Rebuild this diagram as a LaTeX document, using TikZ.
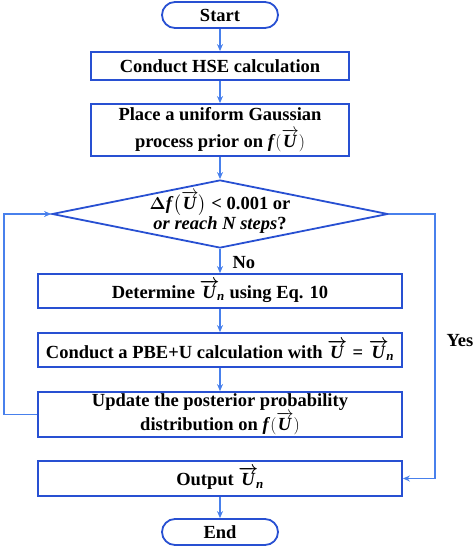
\documentclass[tikz,border=0pt]{standalone}
\usepackage{amsmath}
\usepackage{fontspec}
\setmainfont{Liberation Serif}
\usetikzlibrary{shapes.geometric,arrows.meta}
\definecolor{boxblue}{RGB}{40,80,210}
\definecolor{arrblue}{RGB}{72,128,236}
\newcommand{\Uv}{\overrightarrow{\textbf{\textit{U}}}}
\newcommand{\fv}{\textbf{\textit{f}}}
\newcommand{\nv}{\textbf{\textit{n}}}
\newcommand{\blt}{\mathrel{\text{\textbf{<}}}}
\newcommand{\beq}{\mathrel{\text{\textbf{=}}}}
\begin{document}
\begin{tikzpicture}[x=1pt,y=1pt,
  txt/.style={font=\fontsize{18.5}{24}\selectfont\bfseries\boldmath, text=black},
  procbox/.style={txt, draw=boxblue, line width=1.8pt, rectangle, minimum width=364pt, inner sep=0pt, align=center},
  termbox/.style={txt, draw=boxblue, line width=1.8pt, rectangle, rounded corners=13pt, minimum width=116pt, minimum height=26pt, inner sep=0pt},
  conn/.style={draw=arrblue, line width=1.5pt, -{Stealth[length=7pt,width=6pt]}}
]
\useasboundingbox (0,0) rectangle (474,-548);
\node[termbox] (start) at (220,-15) {Start};
\node[procbox, minimum width=258pt, minimum height=28pt] (hse) at (220,-66) {Conduct HSE calculation};
\node[procbox, minimum width=258pt, minimum height=52pt, font=\fontsize{18.5}{27}\selectfont\bfseries] (gp) at (220,-130) {Place a uniform Gaussian\\ process prior on $\fv(\Uv)$};
\node[diamond, draw=boxblue, line width=1.8pt, minimum width=336pt, minimum height=68pt, inner sep=0pt, aspect=4.94] (dec) at (220,-214) {};
\node[txt, align=center, font=\fontsize{18.5}{20}\selectfont\bfseries] (dtext) at (220,-212) {$\boldsymbol{\Delta}\fv\bigl(\Uv\bigr) \blt \textbf{0.001}$ or\\ \textit{or reach N steps}?};
\node[procbox, minimum height=34pt] (det) at (220,-291) {Determine $\Uv_{\!\nv}$ using Eq. 10};
\node[procbox, minimum height=34pt] (pbe) at (220,-350) {Conduct a PBE+U calculation with $\Uv \beq \Uv_{\!\nv}$};
\node[procbox, minimum height=45pt, font=\fontsize{18.5}{24}\selectfont\bfseries] (upd) at (220,-414.5) {Update the posterior probability\\ distribution on $\fv(\Uv)$};
\node[procbox, minimum height=35pt] (out) at (220,-478.5) {Output $\Uv_{\!\nv}$};
\node[termbox] (end) at (220,-532) {End};
\node[txt, anchor=west] (no) at (229,-263) {No};
\node[txt, anchor=west] (yes) at (443,-341) {Yes};
\coordinate (lt) at (4,-414.5);
\coordinate (lb) at (4,-214);
\coordinate (rt) at (435,-214);
\coordinate (rb) at (435,-478.5);
\draw[conn] (start) -- (hse);
\draw[conn] (hse) -- (gp);
\draw[conn] (gp) -- (dec.north);
\draw[conn] (dec.south) -- (det);
\draw[conn] (det) -- (pbe);
\draw[conn] (pbe) -- (upd);
\draw[conn] (out) -- (end);
\draw[conn] (upd.west) -- (lt) -- (lb) -- (dec.west);
\draw[conn] (dec.east) -- (rt) -- (rb) -- (out.east);
\end{tikzpicture}
\end{document}
